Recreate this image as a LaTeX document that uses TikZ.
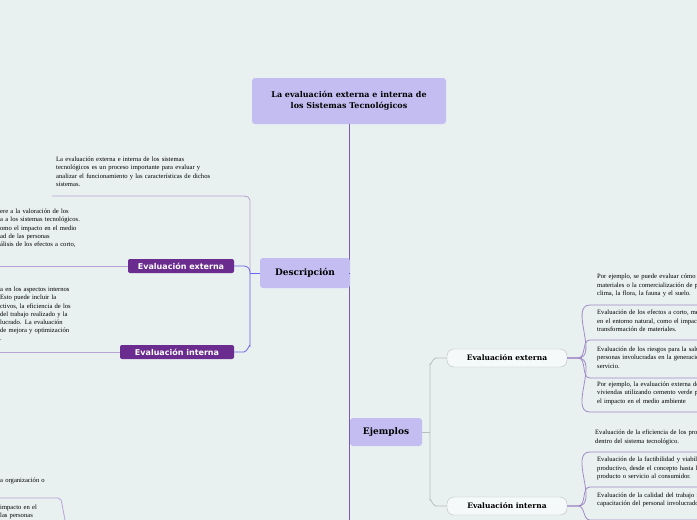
\documentclass[tikz,border=0pt]{standalone}
\usepackage{fontspec}
\setmainfont{Liberation Serif}
\newfontfamily\lblfont{DejaVu Sans}
\newfontfamily\ttlfont{DejaVu Serif}
\definecolor{bg}{HTML}{E8F0F0}
\definecolor{lav}{HTML}{C4BDF2}
\definecolor{pur}{HTML}{6A2C8E}
\definecolor{lpur}{HTML}{B9A3D6}
\definecolor{mid}{HTML}{7A5AAE}
\definecolor{gry}{HTML}{B8BEBE}
\begin{document}
\begin{tikzpicture}[x=1pt,y=-1pt,
  main/.style={fill=lav,rounded corners=3pt,align=center,font=\ttlfont\bfseries\fontsize{8}{11}\selectfont,text=black,inner sep=0pt},
  plab/.style={fill=pur,rounded corners=2pt,text=white,font=\lblfont\bfseries\fontsize{8}{9}\selectfont,inner sep=0pt,minimum height=14pt},
  gbox/.style={draw=gry,fill=white!60!bg,rounded corners=7pt,font=\ttlfont\bfseries\fontsize{7.5}{9}\selectfont,inner sep=0pt,minimum width=120pt,minimum height=18pt},
  txt/.style={anchor=north west,align=left,font=\fontsize{6.6}{8.2}\selectfont,inner sep=0pt,text width=250pt},
  conn/.style={draw=lpur,line width=0.8pt},
  gconn/.style={draw=gry,line width=0.8pt}]
\fill[bg] (0,0) rectangle (697,520);
\clip (0,0) rectangle (697,520);
\draw[conn,draw=mid] (349,124) -- (349,520);
\node[main,minimum width=194pt,minimum height=46pt] (t) at (349,101) {La evaluación externa e interna de\\los Sistemas Tecnológicos};
\node[main,minimum width=90pt,minimum height=30pt,font=\ttlfont\bfseries\fontsize{9}{10}\selectfont] (d) at (305,273) {Descripción};
\node[main,minimum width=72pt,minimum height=28pt,font=\ttlfont\bfseries\fontsize{9}{10}\selectfont] (e) at (386,432) {Ejemplos};
\draw[draw=blue!70,line width=0.6pt] (d.east) -- (349,273);
\node[plab,minimum width=106pt] (ee) at (181,266) {Evaluación externa};
\node[plab,minimum width=114pt] (ei) at (177,352) {Evaluación interna};
\coordinate (b0) at (250,273);
\draw[draw=blue!60,line width=0.6pt] (d.west) -- (b0);
\draw[conn] (b0) -- (250,200) to[out=90,in=0] (244,196) -- (52,196);
\draw[draw=blue!40!lpur,line width=0.8pt] (b0) -- (250,272) to[out=90,in=0] (244,266) -- (ee.east);
\draw[draw=blue!40!lpur,line width=0.8pt] (b0) -- (250,346) to[out=90,in=0] (244,352) -- (ei.east);
\draw[conn] (ee.west) -- (0,266);
\draw[conn] (ei.west) -- (0,352);
\node[txt,text width=175pt] (d1) at (56,157) {La evaluación externa e interna de los sistemas\\tecnológicos es un proceso importante para evaluar y\\analizar el funcionamiento y las características de dichos\\sistemas.};
\node[txt] (d2) at (0,209) {ere a la valoración de los\\a a los sistemas tecnológicos.\\omo el impacto en el medio\\ad de las personas\\álisis de los efectos a corto,};
\node[txt] (d3) at (0,287) {a en los aspectos internos\\Esto puede incluir la\\ctivos, la eficiencia de los\\del trabajo realizado y la\\lucrado. La evaluación\\de mejora y optimización\\.};
\node[txt] (d4) at (0,478) {a organización o};
\node[txt] (d5) at (0,505) {impacto en el\\ las personas};
\draw[conn] (0,498) -- (58,498) to[out=0,in=90] (62,504) -- (65,520);
\node[gbox] (xe) at (507,358) {Evaluación externa};
\node[gbox] (xi) at (507,506) {Evaluación interna};
\draw[gconn] (e.east) -- (430,432);
\draw[gconn] (430,432) -- (430,364) to[out=-90,in=180] (436,358) -- (xe.west);
\draw[gconn] (430,432) -- (430,500) to[out=90,in=180] (436,506) -- (xi.west);
\foreach \y in {305,340,378,412} \draw[conn,draw=mid!70] (xe.east) -- (578,358) to[out=0,in=180] (590,\y) -- (697,\y);
\foreach \y in {452,487,520} \draw[conn,draw=mid!70] (xi.east) -- (578,506) to[out=0,in=180] (590,\y) -- (697,\y);
\node[txt] (r1) at (597,274) {Por ejemplo, se puede evaluar cómo afectan los\\materiales o la comercialización de productos al\\clima, la flora, la fauna y el suelo.};
\node[txt] (r2) at (597,310) {Evaluación de los efectos a corto, mediano y largo plazo\\en el entorno natural, como el impacto de la\\transformación de materiales.};
\node[txt] (r3) at (597,347) {Evaluación de los riesgos para la salud y seguridad de las\\personas involucradas en la generación del producto o\\servicio.};
\node[txt] (r4) at (597,382) {Por ejemplo, la evaluación externa de la construcción de\\viviendas utilizando cemento verde puede considerar\\el impacto en el medio ambiente};
\node[txt] (r5) at (595,430) {Evaluación de la eficiencia de los procesos\\dentro del sistema tecnológico.};
\node[txt] (r6) at (597,457) {Evaluación de la factibilidad y viabilidad del proceso\\productivo, desde el concepto hasta la entrega del\\producto o servicio al consumidor.};
\node[txt] (r7) at (597,493) {Evaluación de la calidad del trabajo realizado y la\\capacitación del personal involucrado.};
\end{tikzpicture}
\end{document}
